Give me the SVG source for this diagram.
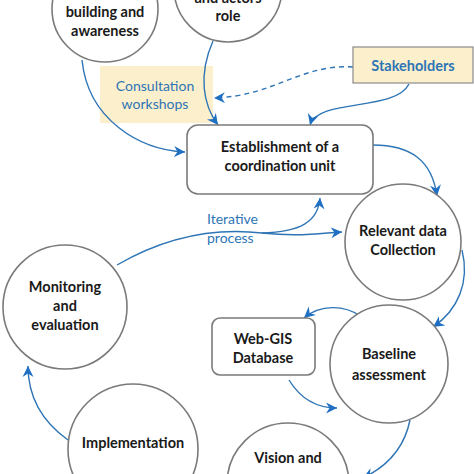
<svg xmlns="http://www.w3.org/2000/svg" width="474" height="474" viewBox="0 0 474 474">
<style>
.node{fill:#fff;stroke:#7a7a7a;stroke-width:1.6}
.lbl{font-family:Lato,"Open Sans","Liberation Sans",sans-serif;font-weight:bold;font-size:14.5px;fill:#1a1a1a;text-anchor:middle}
.blue{font-family:Lato,"Open Sans","Liberation Sans",sans-serif;font-size:14px;fill:#2e75b6}
.conn{fill:none;stroke:#2e75b6;stroke-width:1.4;marker-end:url(#ah)}
.dash{stroke-dasharray:5 4}
.note{fill:#fcefcb}
</style>
<defs>
<marker id="ah" markerUnits="userSpaceOnUse" markerWidth="12" markerHeight="12" refX="11" refY="6" orient="auto">
<path d="M0,0.5 L11,6 L0,11.5 L3.5,6 z" fill="#1f6fc2"/>
</marker>
</defs>
<rect width="474" height="474" fill="#fff"/>
<g id="consultation">
<rect class="note" x="100" y="66" width="113" height="57"/>
<text class="blue" x="155" y="91" text-anchor="middle">Consultation</text>
<text class="blue" x="155" y="109" text-anchor="middle">workshops</text>
</g>
<g id="connectors">
<path class="conn" d="M82,60 C 88,120 140,150 185,152"/>
<path class="conn" d="M213,41 C 198,75 203,105 218,125"/>
<path class="conn dash" d="M353,67 C 300,64 275,96 214,98"/>
<path class="conn" d="M409,84 C 395,112 318,98 310,125"/>
<path class="conn" d="M373,145 C 410,145 432,160 437,196"/>
<path class="conn" d="M462,250 C 470,282 458,310 433,327"/>
<path class="conn" d="M360,316 C 345,305 320,304 304,318"/>
<path class="conn" d="M289,380 C 300,398 315,408 337,408"/>
<path class="conn" d="M410,420 C 405,445 390,465 363,478"/>
<path class="conn" d="M68,440 C 40,420 28,395 28,366"/>
<path class="conn" d="M117,265 C 160,240 210,227 262,233 C 290,236 305,235 342,232"/>
<path class="conn" d="M262,233 C 300,232 318,222 320,198"/>
<text class="blue" x="207" y="224">Iterative</text>
<text class="blue" x="207" y="243">process</text>
</g>
<g id="capacity">
<circle class="node" cx="105" cy="9" r="53"/>
<text class="lbl" x="105" y="17">building and</text>
<text class="lbl" x="105" y="36">awareness</text>
</g>
<g id="actors">
<circle class="node" cx="228" cy="-12" r="54"/>
<text class="lbl" x="228" y="3">and actors</text>
<text class="lbl" x="228" y="21">role</text>
</g>
<g id="stakeholders">
<rect class="note" x="353" y="47" width="120" height="36" stroke="#8a8a8a" stroke-width="1.2"/>
<text class="lbl" x="413" y="71" style="fill:#2e75b6">Stakeholders</text>
</g>
<g id="establishment">
<rect class="node" x="187" y="125" width="186" height="69" rx="11"/>
<text class="lbl" x="280" y="152">Establishment of a</text>
<text class="lbl" x="280" y="171">coordination unit</text>
</g>
<g id="relevant">
<circle class="node" cx="403" cy="242" r="58"/>
<text class="lbl" x="403" y="236">Relevant data</text>
<text class="lbl" x="403" y="255">Collection</text>
</g>
<g id="webgis">
<rect class="node" x="212" y="318" width="103" height="57" rx="8"/>
<text class="lbl" x="263" y="344">Web-GIS</text>
<text class="lbl" x="263" y="363">Database</text>
</g>
<g id="baseline">
<circle class="node" cx="389" cy="364" r="59"/>
<text class="lbl" x="389" y="359">Baseline</text>
<text class="lbl" x="389" y="380">assessment</text>
</g>
<g id="monitoring">
<circle class="node" cx="65" cy="307" r="62"/>
<text class="lbl" x="65" y="292">Monitoring</text>
<text class="lbl" x="65" y="311">and</text>
<text class="lbl" x="65" y="330">evaluation</text>
</g>
<g id="implementation">
<circle class="node" cx="133" cy="449" r="65"/>
<text class="lbl" x="133" y="448">Implementation</text>
</g>
<g id="vision">
<circle class="node" cx="288" cy="484" r="61"/>
<text class="lbl" x="288" y="463">Vision and</text>
</g>
</svg>
